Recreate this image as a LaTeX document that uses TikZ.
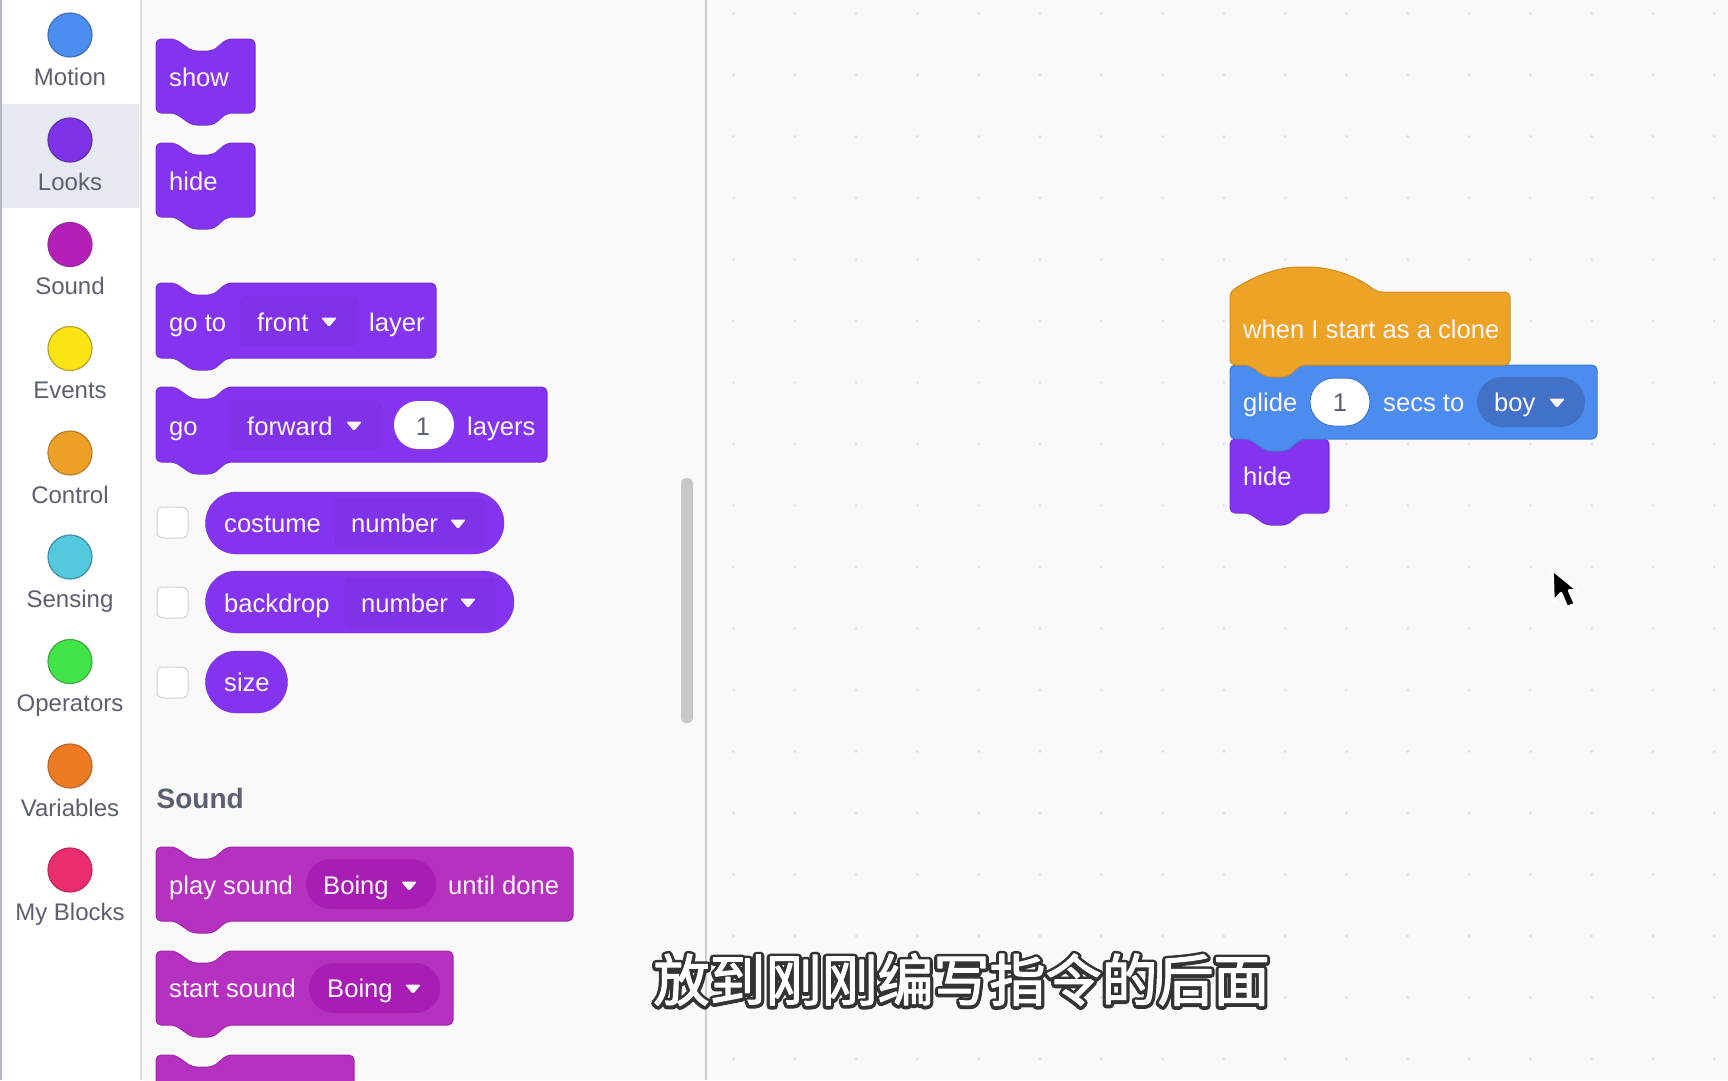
\documentclass[tikz,border=0pt]{standalone}
\usepackage{fontspec}
\setmainfont{Liberation Sans}
\newfontfamily\cjkfont{Noto Sans CJK SC}
\newsavebox\subtitlebox
\definecolor{uibg}{HTML}{F9F9FA}
\definecolor{rowsel}{HTML}{E6E9EF}
\definecolor{sideedge}{HTML}{B4B7C6}
\definecolor{sidediv}{HTML}{DADCE2}
\definecolor{labelgrey}{HTML}{5B6070}
\definecolor{griddot}{HTML}{E4E4E6}
\definecolor{looksfill}{HTML}{8434EE}
\definecolor{looksedge}{HTML}{7A2FD8}
\definecolor{looksfield}{HTML}{7F32E8}
\definecolor{soundfill}{HTML}{B531BF}
\definecolor{soundedge}{HTML}{A525AE}
\definecolor{soundfield}{HTML}{A81DB4}
\definecolor{motionfill}{HTML}{4B8CEE}
\definecolor{motionedge}{HTML}{3F78D0}
\definecolor{motionfield}{HTML}{4272C8}
\definecolor{hatfill}{HTML}{EDA326}
\definecolor{hatedge}{HTML}{CC8F28}
\definecolor{blocktext}{HTML}{FDF6FF}
\newcommand\stackblock[6]{% x y w h fill edge
  \draw[fill=#5,draw=#6,line width=1pt,rounded corners=5pt]
    (#1,#2) -- (#1+19,#2) -- (#1+36,#2+12) -- (#1+57,#2+12) -- (#1+71,#2) -- (#1+#3,#2)
    -- (#1+#3,#2+#4) -- (#1+71,#2+#4) -- (#1+57,#2+#4+12) -- (#1+36,#2+#4+12)
    -- (#1+19,#2+#4) -- (#1,#2+#4) -- cycle;}
\newcommand\caret[2]{\fill[blocktext,rounded corners=1.5pt] (#1-8,#2-4.5) -- (#1+8,#2-4.5) -- (#1,#2+5) -- cycle;}
\tikzset{
  blocklabel/.style={anchor=base west,inner sep=0pt,text=blocktext,font=\fontsize{25.6}{30}\selectfont},
  cattext/.style={anchor=base,inner sep=0pt,text=labelgrey,font=\fontsize{24}{29}\selectfont},
  catdot/.style={circle,inner sep=0pt,minimum size=44pt,line width=1.2pt},
  valuepill/.style={fill=white,rounded corners=24pt},
  checkbox/.style={fill=white,draw=black!18,line width=1pt,rounded corners=6pt},
}
\begin{document}
\begin{tikzpicture}[x=1pt,y=-1pt]
\useasboundingbox (0,0) rectangle (1728,1080);
\clip (0,0) rectangle (1728,1080);
% panels
\fill[uibg] (0,0) rectangle (1728,1080);
\fill[white] (0,0) rectangle (140,1080);
\fill[rowsel] (2,104) rectangle (139,208);
\fill[sideedge] (0,0) rectangle (2,1080);
\fill[sidediv] (139.5,0) rectangle (142,1080);
\fill[black!20] (705,0) rectangle (707,1080);
% workspace grid
\foreach \gx in {0,...,16}{\foreach \gy in {0,...,17}{
  \fill[griddot] ({733.5+61.3*\gx},{13.5+61.5*\gy}) circle (1.6);}}
% categories
\foreach \nm/\lab/\cy/\cf/\ce in {
  motion/Motion/35/4C8DF0/3F70B8,
  looks/Looks/140/7E33E6/6530B0,
  sound/Sound/244.5/B41FB8/9A2AA0,
  events/Events/348.5/F8E513/B8A030,
  control/Control/453/EE9F26/B88030,
  sensing/Sensing/557/54C8DC/3F90A8,
  operators/Operators/661.5/40E448/40A848,
  variables/Variables/766/EC7B24/B8682A,
  myblocks/My Blocks/870/E92D70/C02A60}{
  \definecolor{cf}{HTML}{\cf}\definecolor{ce}{HTML}{\ce}
  \node[catdot,fill=cf,draw=ce] (dot\nm) at (70,\cy) {};
  \node[cattext] (lab\nm) at (70,\cy+50) {\lab};
}
% scrollbar
\fill[black!22,rounded corners=5pt] (681,478) rectangle (693,723);
% palette looks blocks
\stackblock{156}{39}{99}{74}{looksfill}{looksedge}
\node[blocklabel] (show) at (169,86) {show};
\stackblock{156}{143}{99}{74}{looksfill}{looksedge}
\node[blocklabel] (hide) at (169,190) {hide};
\stackblock{156}{283}{280}{75}{looksfill}{looksedge}
\draw[fill=looksfield,draw=looksedge,rounded corners=6pt] (240,297) rectangle (358,345);
\node[blocklabel] (goto) at (169,331) {go to};
\node[blocklabel] (front) at (257,331) {front};
\caret{329}{322}
\node[blocklabel] (layer) at (369,331) {layer};
\stackblock{156}{387}{391}{75}{looksfill}{looksedge}
\draw[fill=looksfield,draw=looksedge,rounded corners=6pt] (231,401) rectangle (381,449);
\fill[valuepill] (394,401) rectangle (454,449);
\node[blocklabel] (go) at (169,435) {go};
\node[blocklabel] (forward) at (247,435) {forward};
\caret{354}{426}
\node[blocklabel,text=labelgrey,anchor=base] (layernum) at (423,435) {1};
\node[blocklabel] (layers) at (467,435) {layers};
% reporters
\draw[checkbox] (157,507) rectangle (188,538);
\draw[fill=looksfill,draw=looksedge,rounded corners=31pt] (205.5,492) rectangle (504,554);
\draw[fill=looksfield,draw=looksedge,rounded corners=6pt] (335,498) rectangle (485,548);
\node[blocklabel] (costume) at (224,532) {costume};
\node[blocklabel] (costnum) at (351,532) {number};
\caret{458}{524}
\draw[checkbox] (157,587) rectangle (188,618);
\draw[fill=looksfill,draw=looksedge,rounded corners=31pt] (205.5,571) rectangle (514,633);
\draw[fill=looksfield,draw=looksedge,rounded corners=6pt] (345,578) rectangle (495,627);
\node[blocklabel] (backdrop) at (224,612) {backdrop};
\node[blocklabel] (backnum) at (361,612) {number};
\caret{468}{603}
\draw[checkbox] (157,667) rectangle (188,698);
\draw[fill=looksfill,draw=looksedge,rounded corners=31pt] (205.5,651) rectangle (287.5,713);
\node[blocklabel] (size) at (224,691) {size};
% Sound section
\node[anchor=base west,inner sep=0pt,text=labelgrey,font=\fontsize{28}{33}\selectfont\bfseries] (soundhead) at (156.5,808.5) {Sound};
\stackblock{156}{847}{417}{74}{soundfill}{soundedge}
\draw[fill=soundfield,draw=none,rounded corners=25pt] (306,859) rectangle (436,909);
\node[blocklabel] (playsound) at (169,894) {play sound};
\node[blocklabel] (boinga) at (323,894) {Boing};
\caret{409}{886}
\node[blocklabel] (untildone) at (448,894) {until done};
\stackblock{156}{951}{297}{74}{soundfill}{soundedge}
\draw[fill=soundfield,draw=none,rounded corners=25pt] (309,963) rectangle (440,1013);
\node[blocklabel] (startsound) at (169,997) {start sound};
\node[blocklabel] (boingb) at (327,997) {Boing};
\caret{413}{989}
\stackblock{156}{1055}{198}{74}{soundfill}{soundedge}
% script stack
\stackblock{1230}{439}{99}{74}{looksfill}{looksedge}
\node[blocklabel] (scripthide) at (1243,485) {hide};
\stackblock{1230}{365}{367}{74}{motionfill}{motionedge}
\draw[fill=white,draw=motionedge,line width=1pt,rounded corners=24pt] (1310,378) rectangle (1370,426);
\draw[fill=motionfield,draw=none,rounded corners=25pt] (1477,377) rectangle (1585,427);
\node[blocklabel] (glide) at (1243,411) {glide};
\node[blocklabel,text=labelgrey,anchor=base] (secs) at (1340,411) {1};
\node[blocklabel] (secsto) at (1383,411) {secs to};
\node[blocklabel] (boy) at (1494,411) {boy};
\caret{1557}{403}
\draw[fill=hatfill,draw=hatedge,line width=1pt,rounded corners=5pt]
  (1230,292) .. controls (1255,275) and (1280,267) .. (1303,267)
  .. controls (1330,267) and (1355,275) .. (1377,292)
  -- (1510,292) -- (1510,365) -- (1301,365) -- (1287,377) -- (1266,377) -- (1249,365) -- (1230,365) -- cycle;
\node[blocklabel] (clone) at (1243,338) {when I start as a clone};
% cursor
\draw[fill=black,draw=white,line width=2.5pt,line join=round]
  (1552.5,570) -- (1553.5,601) -- (1561,593) -- (1567,607) -- (1575,604) -- (1569,590.5) -- (1577,590) -- cycle;
% subtitle: dark outline under a white fill, both from one saved line
\node[inner sep=0pt,text=white,font=\fontsize{56}{64}\cjkfont] (subtitle) at (961.5,980)
  {\setbox\subtitlebox=\hbox{放到刚刚编写指令的后面}%
   \rlap{\special{pdf:code q 0.2 0.2 0.2 RG 7.5 w 1 j 1 Tr}\lower0.7pt\copy\subtitlebox\special{pdf:code Q}}%
   \special{pdf:code q 1 1 1 RG 1.2 w 1 j 2 Tr}\copy\subtitlebox\special{pdf:code Q}};
\end{tikzpicture}
\end{document}
